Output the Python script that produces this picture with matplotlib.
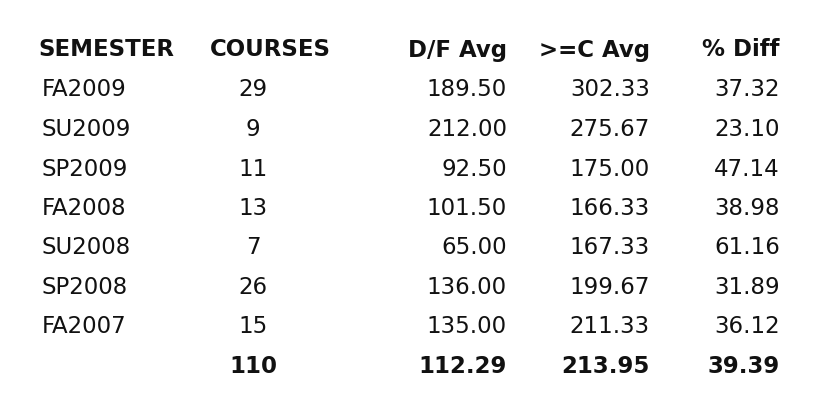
import matplotlib
matplotlib.use("Agg")
import matplotlib.pyplot as plt

headers = ["SEMESTER", "COURSES", "D/F Avg", ">=C Avg", "% Diff"]
semesters = ["FA2009", "SU2009", "SP2009", "FA2008", "SU2008", "SP2008", "FA2007"]
courses = [29, 9, 11, 13, 7, 26, 15]
df_avg = [189.50, 212.00, 92.50, 101.50, 65.00, 136.00, 135.00]
c_avg = [302.33, 275.67, 175.00, 166.33, 167.33, 199.67, 211.33]
pct_diff = [37.32, 23.10, 47.14, 38.98, 61.16, 31.89, 36.12]
totals = ["110", "112.29", "213.95", "39.39"]

W, H = 820, 415
fig = plt.figure(figsize=(W/100, H/100), dpi=100)
fig.patch.set_facecolor("white")
col = "#111111"
fs = 16.5

def t(x, y, s, ha="left", bold=False):
    fig.text(x/W, 1-y/H, s, ha=ha, va="center", fontsize=fs, color=col,
             fontweight="bold" if bold else "normal", family="DejaVu Sans")

t(38, 50, headers[0], bold=True)
t(270, 50, headers[1], ha="center", bold=True)
t(507, 50, headers[2], ha="right", bold=True)
t(650, 50, headers[3], ha="right", bold=True)
t(780, 50, headers[4], ha="right", bold=True)

ys = [90, 130, 169, 208, 247, 287, 326]
for i, y in enumerate(ys):
    t(42, y, semesters[i])
    t(253, y, str(courses[i]), ha="center")
    t(507, y, f"{df_avg[i]:.2f}", ha="right")
    t(650, y, f"{c_avg[i]:.2f}", ha="right")
    t(780, y, f"{pct_diff[i]:.2f}", ha="right")

t(253, 366, totals[0], ha="center", bold=True)
t(507, 366, totals[1], ha="right", bold=True)
t(650, 366, totals[2], ha="right", bold=True)
t(780, 366, totals[3], ha="right", bold=True)

fig.savefig("out.png", dpi=100, facecolor="white")
